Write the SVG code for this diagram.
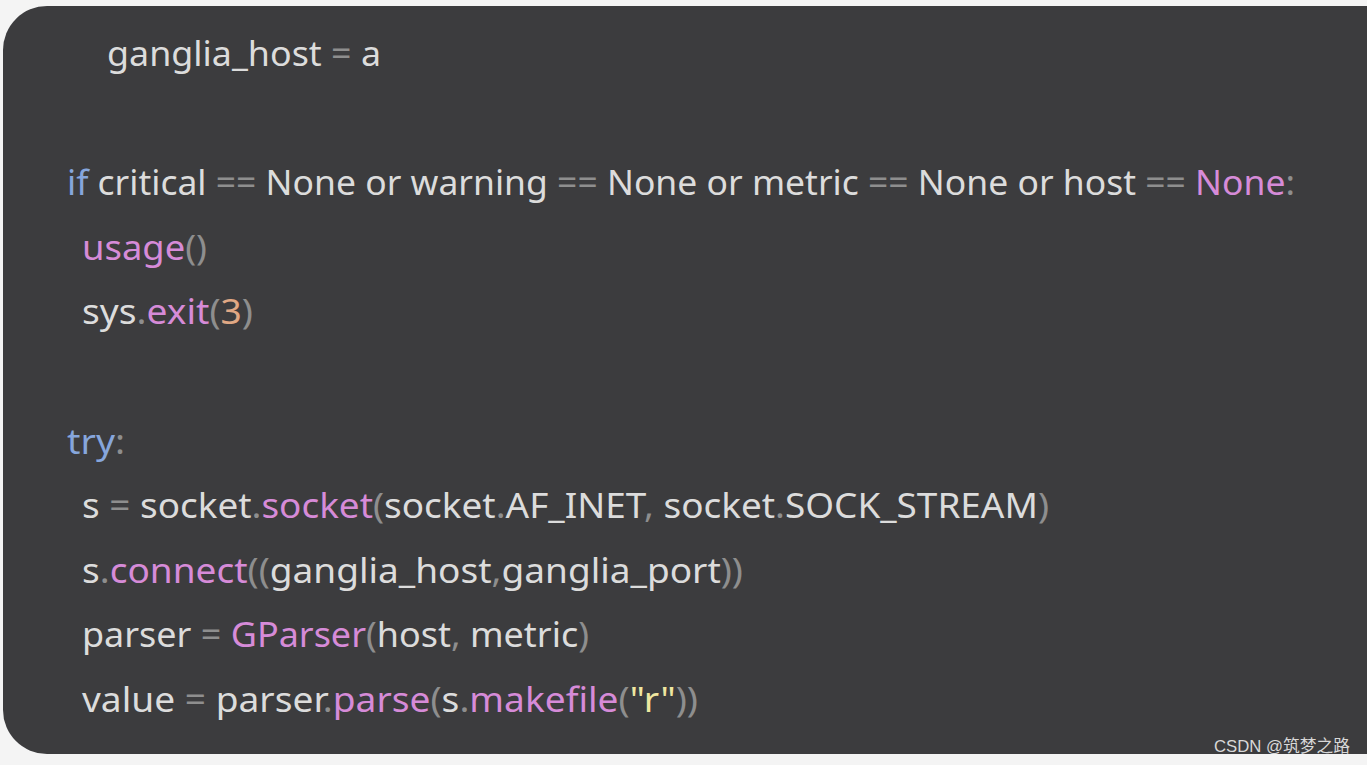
<svg xmlns="http://www.w3.org/2000/svg" width="1367" height="765" viewBox="0 0 1367 765">
<style>
.c{font-family:"Noto Sans","Open Sans",sans-serif;font-size:35px;fill:#dcdcdc}
.o{fill:#8e8e8e}.k{fill:#86a6dc}.f{fill:#d68bd8}.n{fill:#e0a884}.s{fill:#efe6a0}
.w{font-family:"Liberation Sans","Noto Sans CJK SC",sans-serif;font-size:16.5px;fill:#d8d8d8}
</style>
<rect width="1367" height="765" fill="#f4f4f4"/>
<rect x="3" y="6" width="1420" height="748" rx="44" fill="#3c3c3e"/>
<g id="code" transform="translate(0,2)">
<text class="c" x="107" y="64" textLength="274" lengthAdjust="spacingAndGlyphs">ganglia_host <tspan class="o">=</tspan> a</text>
<text class="c" x="67" y="193" textLength="1228" lengthAdjust="spacingAndGlyphs"><tspan class="k">if</tspan> critical <tspan class="o">==</tspan> None or warning <tspan class="o">==</tspan> None or metric <tspan class="o">==</tspan> None or host <tspan class="o">==</tspan> <tspan class="f">None</tspan><tspan class="o">:</tspan></text>
<text class="c" x="82" y="258" textLength="125" lengthAdjust="spacingAndGlyphs"><tspan class="f">usage</tspan><tspan class="o">()</tspan></text>
<text class="c" x="82" y="322" textLength="171" lengthAdjust="spacingAndGlyphs">sys<tspan class="o">.</tspan><tspan class="f">exit</tspan><tspan class="o">(</tspan><tspan class="n">3</tspan><tspan class="o">)</tspan></text>
<text class="c" x="67" y="452" textLength="58" lengthAdjust="spacingAndGlyphs"><tspan class="k">try</tspan><tspan class="o">:</tspan></text>
<text class="c" x="82" y="516" textLength="967" lengthAdjust="spacingAndGlyphs">s <tspan class="o">=</tspan> socket<tspan class="o">.</tspan><tspan class="f">socket</tspan><tspan class="o">(</tspan>socket<tspan class="o">.</tspan>AF_INET<tspan class="o">,</tspan> socket<tspan class="o">.</tspan>SOCK_STREAM<tspan class="o">)</tspan></text>
<text class="c" x="82" y="581" textLength="661" lengthAdjust="spacingAndGlyphs">s<tspan class="o">.</tspan><tspan class="f">connect</tspan><tspan class="o">((</tspan>ganglia_host<tspan class="o">,</tspan>ganglia_port<tspan class="o">))</tspan></text>
<text class="c" x="82" y="645" textLength="507" lengthAdjust="spacingAndGlyphs">parser <tspan class="o">=</tspan> <tspan class="f">GParser</tspan><tspan class="o">(</tspan>host<tspan class="o">,</tspan> metric<tspan class="o">)</tspan></text>
<text class="c" x="82" y="710" textLength="616" lengthAdjust="spacingAndGlyphs">value <tspan class="o">=</tspan> parser<tspan class="o">.</tspan><tspan class="f">parse</tspan><tspan class="o">(</tspan>s<tspan class="o">.</tspan><tspan class="f">makefile</tspan><tspan class="o">(</tspan><tspan class="s">"r"</tspan><tspan class="o">))</tspan></text>
</g>
<text class="w" x="1214" y="752" textLength="136" lengthAdjust="spacingAndGlyphs">CSDN @筑梦之路</text>
</svg>
